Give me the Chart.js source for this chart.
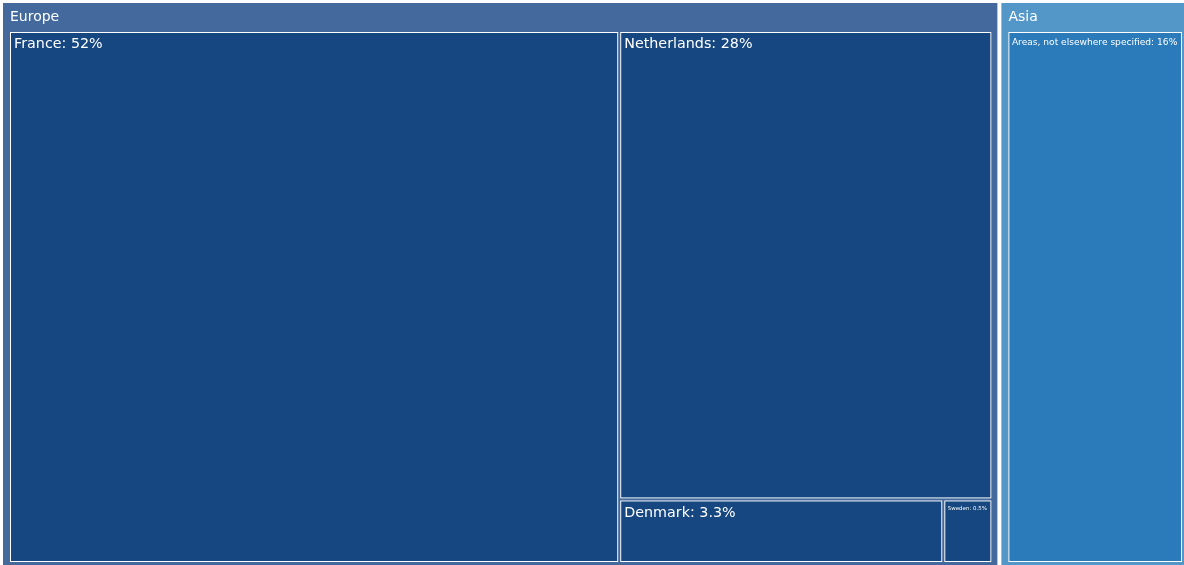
<!DOCTYPE html>
<html lang="en">
<head>
  <meta charset="UTF-8">
  <title>Treemap</title>
  <style>
    * { margin: 0; padding: 0; box-sizing: border-box; }
    body { background: #ffffff; width: 1184px; height: 565px; overflow: hidden; }
    .wrap { position: relative; width: 1184px; height: 565px; }
  </style>
  <script src="https://cdn.jsdelivr.net/npm/chart.js@4.4.1/dist/chart.umd.min.js"></script>
</head>
<body>
  <div class="wrap"><canvas id="tree"></canvas></div>

  <script>
    // data
    const regions = ['Europe', 'Asia'];
    const countries = ['France', 'Netherlands', 'Denmark', 'Sweden', 'Areas, not elsewhere specified'];
    const countryRegion = ['Europe', 'Europe', 'Europe', 'Europe', 'Asia'];
    const shares = [52, 28, 3.3, 0.5, 16];
    const shareLabels = ['52%', '28%', '3.3%', '0.5%', '16%'];

    const regionColor = { Europe: '#44699c', Asia: '#5396c8' };
    const tileColor = { Europe: '#164780', Asia: '#2b7aba' };
    const FONT = '"DejaVu Sans", sans-serif';

    const sum = a => a.reduce((s, v) => s + v, 0);

    function worst(row, side, scale) {
      const s = sum(row) * scale;
      const mx = Math.max(...row) * scale, mn = Math.min(...row) * scale;
      return Math.max(side * side * mx / (s * s), (s * s) / (side * side * mn));
    }

    // squarified layout, values sorted desc
    function squarify(vals, rect) {
      const out = [];
      let r = { ...rect };
      let i = 0;
      while (i < vals.length) {
        const scale = r.w * r.h / sum(vals.slice(i));
        const side = Math.min(r.w, r.h);
        const row = [vals[i]];
        let j = i + 1;
        while (j < vals.length && worst(row.concat(vals[j]), side, scale) <= worst(row, side, scale)) {
          row.push(vals[j]); j++;
        }
        const area = sum(row) * scale;
        if (r.w >= r.h) {
          const cw = area / r.h; let yy = r.y;
          row.forEach(v => { const hh = v * scale / cw; out.push({ x: r.x, y: yy, w: cw, h: hh }); yy += hh; });
          r = { x: r.x + cw, y: r.y, w: r.w - cw, h: r.h };
        } else {
          const rh = area / r.w; let xx = r.x;
          row.forEach(v => { const ww = v * scale / rh; out.push({ x: xx, y: r.y, w: ww, h: rh }); xx += ww; });
          r = { x: r.x, y: r.y + rh, w: r.w, h: r.h - rh };
        }
        i = j;
      }
      return out;
    }

    const inset = (r, l, t, rr, b) => ({ x: r.x + l, y: r.y + t, w: r.w - l - rr, h: r.h - t - b });

    function fitText(ctx, text, maxW, base) {
      ctx.font = base + 'px ' + FONT;
      const w = ctx.measureText(text).width;
      return w > maxW ? base * maxW / w : base;
    }

    const treemapPlugin = {
      id: 'treemap',
      afterDatasetsDraw(chart) {
        const ctx = chart.ctx;
        const xs = chart.scales.x, ys = chart.scales.y;
        const toPx = r => {
          const x0 = xs.getPixelForValue(r.x), x1 = xs.getPixelForValue(r.x + r.w);
          const y0 = ys.getPixelForValue(r.y), y1 = ys.getPixelForValue(r.y + r.h);
          return { x: x0, y: Math.min(y0, y1), w: x1 - x0, h: Math.abs(y1 - y0) };
        };
        const regionTotals = regions.map(g => sum(shares.filter((v, k) => countryRegion[k] === g)));
        const root = { x: 1, y: 1, w: 1189, h: 568 };
        const regionRects = squarify(regionTotals, root);

        ctx.save();
        regions.forEach((g, gi) => {
          const area = inset(regionRects[gi], 2, 2, 2, 2);
          const pr = toPx(area);
          ctx.fillStyle = regionColor[g];
          ctx.fillRect(pr.x, pr.y, pr.w, pr.h);
          ctx.fillStyle = '#ffffff';
          ctx.font = '14px ' + FONT;
          ctx.textBaseline = 'alphabetic';
          ctx.fillText(g, pr.x + 7, pr.y + 18);

          const idx = countries.map((c, k) => k).filter(k => countryRegion[k] === g)
            .sort((a, b) => shares[b] - shares[a]);
          const childArea = inset(area, 6, 28, 5, 4);
          const rects = squarify(idx.map(k => shares[k]), childArea);
          idx.forEach((k, n) => {
            const cr = toPx(inset(rects[n], 1, 1, 1, 1));
            ctx.fillStyle = tileColor[g];
            ctx.fillRect(cr.x, cr.y, cr.w, cr.h);
            ctx.strokeStyle = '#ffffff';
            ctx.lineWidth = 1;
            ctx.strokeRect(cr.x + 0.5, cr.y + 0.5, cr.w - 1, cr.h - 1);
            const label = countries[k] + ': ' + shareLabels[k];
            const size = fitText(ctx, label, cr.w - 8, 14.3);
            ctx.font = size + 'px ' + FONT;
            ctx.fillStyle = '#ffffff';
            ctx.fillText(label, cr.x + (size < 10 ? 3.5 : 4), cr.y + 6 + size * 0.73);
          });
        });
        ctx.restore();
      }
    };

    new Chart(document.getElementById('tree'), {
      type: 'scatter',
      data: { datasets: [{ data: [] }] },
      options: {
        responsive: true,
        maintainAspectRatio: false,
        animation: false,
        layout: { padding: 0 },
        scales: {
          x: { type: 'linear', min: 0, max: 1184, display: false },
          y: { type: 'linear', min: 0, max: 565, reverse: true, display: false }
        },
        plugins: { legend: { display: false }, tooltip: { enabled: false } }
      },
      plugins: [treemapPlugin]
    });
  </script>
</body>
</html>
